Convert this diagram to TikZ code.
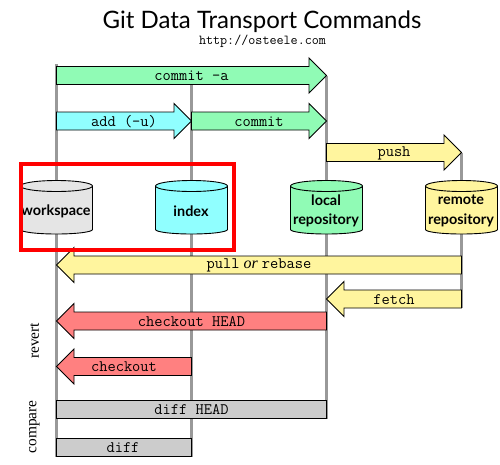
\documentclass[tikz,border=0pt]{standalone}
\usepackage{fontspec}
\setmainfont{Liberation Serif}
\newfontfamily\titlefont{Lato}
\newfontfamily\cylfont{Lato}[BoldFont={Lato Bold}]
\definecolor{cgreen}{HTML}{90FBB5}
\definecolor{ccyan}{HTML}{90FFFF}
\definecolor{cyellow}{HTML}{FFF59E}
\definecolor{cred}{HTML}{FF8080}
\definecolor{cgray}{HTML}{CCCCCC}
\definecolor{cwork}{HTML}{E5E5E5}
\definecolor{cline}{HTML}{999999}
\tikzset{
  lane/.style={draw=cline,line width=2.6pt},
  shapeline/.style={draw=black,line width=0.9pt,line join=miter},
  cmd/.style={font=\fontsize{16}{18}\selectfont\ttfamily,inner sep=0pt,anchor=center},
  cyl/.style={font=\fontsize{14.4}{19.5}\selectfont\cylfont\bfseries,align=center,inner sep=0pt},
  sidelabel/.style={font=\fontsize{15.4}{18}\selectfont,rotate=90,inner sep=0pt},
}
% name, x from, x to, y centre, colour, text
\newcommand{\bigarrow}[6]{%
  \pgfmathsetmacro{\ax}{#2}\pgfmathsetmacro{\bx}{#3}%
  \pgfmathsetmacro{\hb}{\bx>\ax ? \bx-17.5 : \bx+17.5}%
  \path[shapeline,fill=#5] (\ax,#4-9) -- (\hb,#4-9) -- (\hb,#4-17.5) -- (\bx,#4) -- (\hb,#4+17.5) -- (\hb,#4+9) -- (\ax,#4+9) -- cycle;
  \node[cmd] (#1) at ({(\ax+\bx)/2},#4+0.5) {#6};}
% name, x centre, colour, text
\newcommand{\repo}[4]{%
  \path[shapeline,fill=#3] (#2-36,186) -- (#2-36,229.5) arc[start angle=180,end angle=0,x radius=36,y radius=4.5] -- (#2+36,186) arc[start angle=0,end angle=-180,x radius=36,y radius=5.5] -- cycle;
  \path[shapeline] (#2-36,186) arc[start angle=180,end angle=0,x radius=36,y radius=5.5];
  \node[cyl] (#1) at (#2-0.5,211) {#4};}
\begin{document}
\begin{tikzpicture}[x=1pt,y=-1pt]
\useasboundingbox (0,0) rectangle (500,464);
\node[font=\fontsize{24}{28}\selectfont\titlefont,inner sep=0pt] (title) at (262,22) {Git Data Transport Commands};
\node[font=\fontsize{13.7}{14}\selectfont\ttfamily,inner sep=0pt] (url) at (262.5,41.5) {http://osteele.com};
\coordinate (wt) at (56.5,64); \coordinate (wb) at (56.5,457);
\coordinate (it) at (191.5,84); \coordinate (ib) at (191.5,457);
\coordinate (lt) at (326.5,76); \coordinate (lb) at (326.5,419);
\coordinate (rt) at (461.5,153); \coordinate (rb) at (461.5,308);
\draw[lane] (wt) -- (wb);
\draw[lane] (it) -- (ib);
\draw[lane] (lt) -- (lb);
\draw[lane] (rt) -- (rb);
\bigarrow{commita}{56.5}{326.5}{75.5}{cgreen}{commit -a}
\bigarrow{add}{56.5}{191.5}{121}{ccyan}{add (-u)}
\bigarrow{commit}{191.5}{326.5}{121}{cgreen}{commit}
\bigarrow{push}{326.5}{461.5}{152.5}{cyellow}{push}
\repo{workspace}{56.5}{cwork}{workspace}
\repo{index}{191.5}{ccyan}{index}
\repo{local}{326.5}{cgreen}{local\\repository}
\repo{remote}{461.5}{cyellow}{remote\\repository}
\bigarrow{pull}{461.5}{56.5}{265}{cyellow}{pull\hspace{4pt}{\rmfamily\itshape or}\hspace{4pt}rebase}
\bigarrow{fetch}{461.5}{326.5}{299}{cyellow}{fetch}
\bigarrow{checkouthead}{326.5}{56.5}{321}{cred}{checkout HEAD}
\bigarrow{checkout}{191.5}{56.5}{366.5}{cred}{checkout}
\path[shapeline,fill=cgray] (56.5,400.5) rectangle (326.5,418.5);
\node[cmd] (diffhead) at (191.5,409.5) {diff HEAD};
\path[shapeline,fill=cgray] (56.5,438.5) rectangle (191.5,456.5);
\node[cmd] (diff) at (123,447.5) {diff};
\node[sidelabel] (revert) at (34.5,341) {revert};
\node[sidelabel] (compare) at (34.5,427) {compare};
\draw[red,line width=4pt] (21,164) rectangle (234,250);
\end{tikzpicture}
\end{document}
